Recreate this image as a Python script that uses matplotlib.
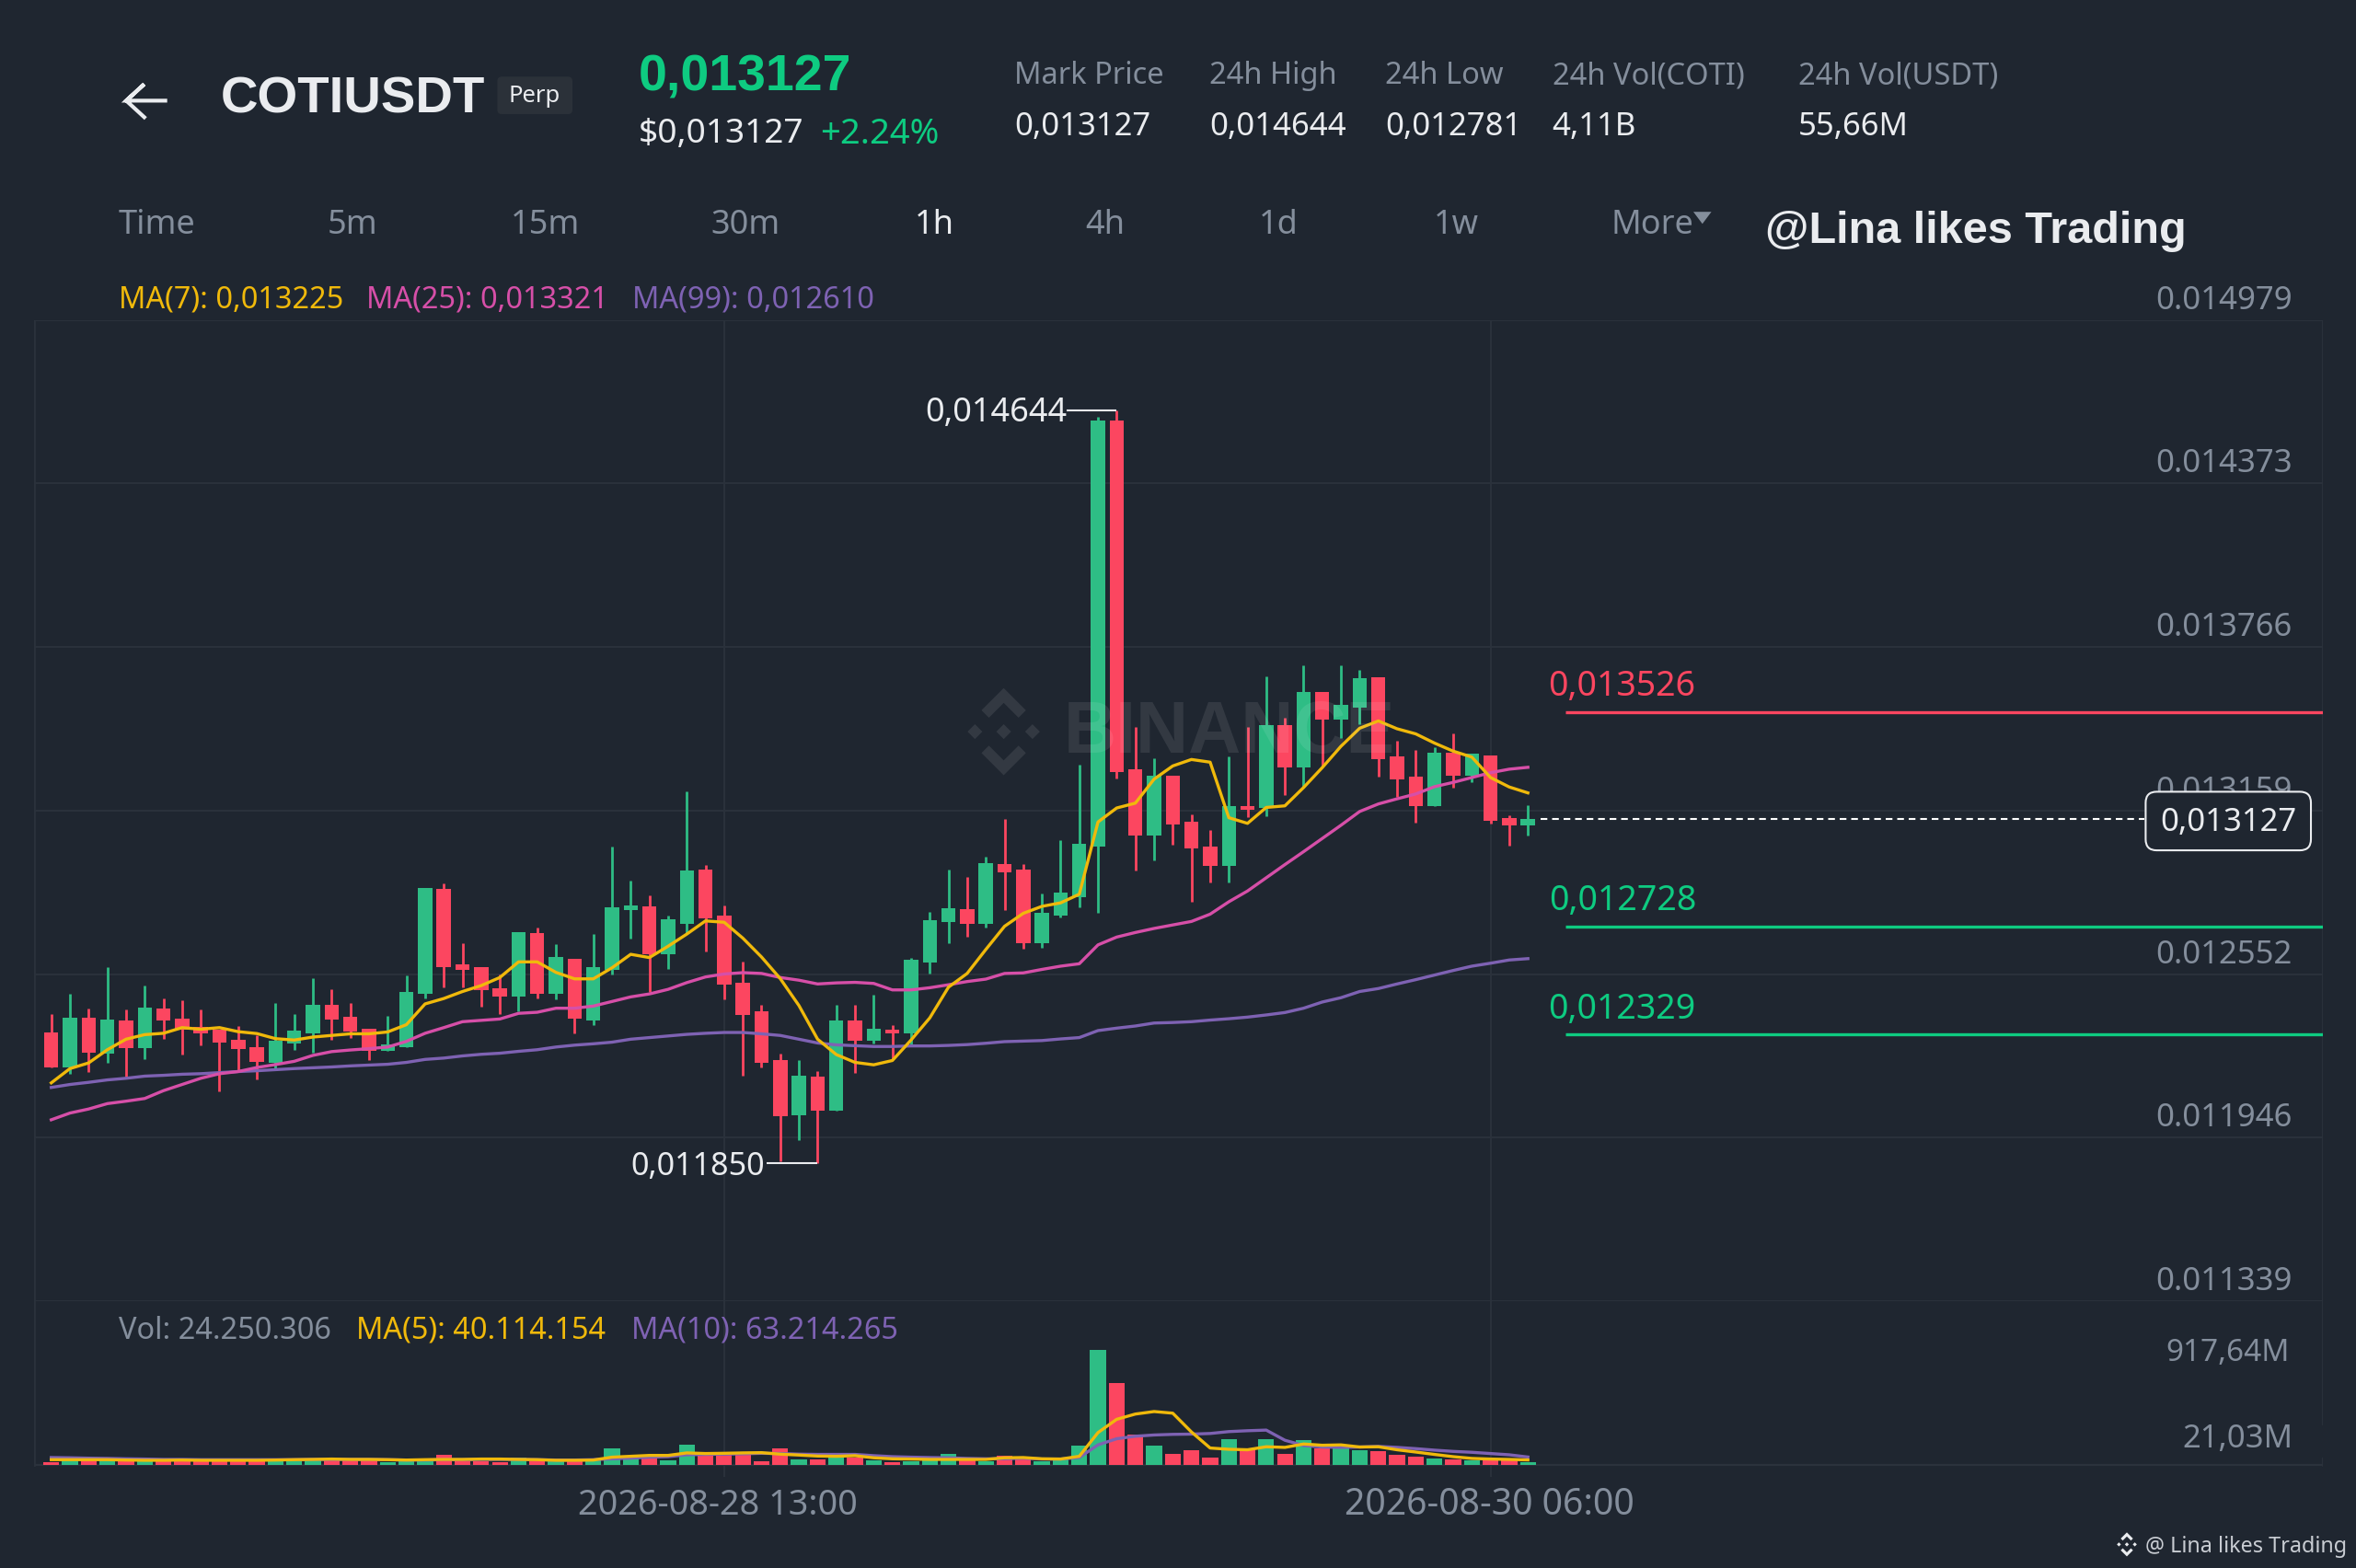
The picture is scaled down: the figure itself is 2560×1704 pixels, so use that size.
import matplotlib
matplotlib.use("Agg")
import numpy as np
import matplotlib.pyplot as plt
from matplotlib.patches import FancyBboxPatch, Polygon

plt.rcParams['font.family'] = ['Noto Sans', 'DejaVu Sans']

# ---------- data (prices in millionths of USDT, volumes in millions) ----------
opens = [12337,12208,12390,12257,12380,12279,12426,12387,12358,12345,12308,12282,12225,12294,12331,12438,12394,12349,12267,12283,
         12479,12869,12590,12578,12500,12468,12705,12479,12608,12381,12568,12791,12805,12626,12740,12939,12770,12519,12414,12234,
         12029,12172,12046,12380,12305,12346,12331,12595,12745,12795,12740,12961,12941,12666,12770,12838,13026,14607,13313,13067,
         13288,13117,13027,12955,13177,13170,13477,13320,13598,13498,13542,13653,13360,13284,13176,13375,13288,13364,13131,13104]
closes = [12206,12390,12261,12384,12279,12427,12379,12348,12333,12300,12273,12226,12305,12343,12440,12385,12340,12267,12292,12488,
          12872,12578,12567,12494,12470,12709,12479,12617,12387,12579,12801,12807,12625,12755,12938,12758,12512,12400,12224,12027,
          12174,12045,12382,12305,12349,12333,12607,12751,12796,12738,12963,12931,12667,12779,12854,13036,14607,13303,13066,13288,
          13108,13018,12955,13176,13164,13477,13320,13598,13498,13552,13652,13350,13275,13176,13375,13288,13370,13121,13103,13127]
highs = [12405,12479,12425,12578,12422,12511,12464,12454,12422,12348,12361,12325,12445,12404,12538,12495,12444,12351,12398,12548,
         12872,12888,12667,12579,12550,12709,12726,12665,12608,12702,13026,12898,12846,12770,13232,12956,12806,12598,12440,12259,
         12232,12194,12440,12440,12475,12363,12614,12782,12939,12914,12988,13129,12960,12851,13049,13331,14622,14644,13471,13352,
         13288,13145,13087,13359,13471,13659,13504,13698,13598,13699,13683,13653,13420,13383,13394,13447,13372,13364,13142,13178]
lows = [12206,12183,12189,12225,12172,12237,12312,12255,12288,12118,12194,12163,12202,12271,12261,12308,12314,12235,12267,12283,
        12464,12504,12504,12431,12406,12413,12464,12460,12331,12364,12550,12686,12485,12570,12701,12636,12460,12175,12206,11859,
        11938,11850,12046,12186,12294,12238,12291,12553,12668,12691,12725,12789,12648,12650,12763,12800,12781,13280,12938,12973,
        13032,12821,12894,12892,13136,13138,13217,13245,13322,13428,13480,13284,13209,13114,13176,13243,13266,13111,13030,13066]
ma7 = [12149,12202,12223,12272,12311,12328,12333,12354,12348,12354,12339,12332,12313,12308,12319,12325,12331,12331,12338,12365,
       12442,12462,12488,12510,12540,12598,12598,12559,12535,12535,12576,12626,12614,12656,12701,12750,12745,12686,12616,12536,
       12436,12311,12254,12225,12216,12232,12308,12390,12504,12555,12644,12730,12778,12804,12817,12849,13117,13169,13187,13276,
       13325,13349,13339,13133,13112,13171,13177,13245,13319,13398,13465,13492,13463,13444,13410,13380,13358,13282,13247,13225]
ma25 = [12012,12037,12052,12072,12081,12091,12120,12143,12166,12183,12191,12206,12217,12229,12251,12265,12271,12276,12282,12303,
        12333,12354,12376,12381,12386,12407,12411,12426,12426,12434,12451,12468,12479,12496,12521,12542,12553,12558,12555,12540,
        12530,12516,12520,12522,12518,12494,12494,12502,12513,12525,12534,12555,12557,12570,12582,12591,12661,12690,12707,12722,
        12735,12748,12775,12821,12861,12910,12959,13007,13056,13105,13156,13184,13203,13221,13248,13264,13282,13300,13313,13320]
ma99 = [12132,12143,12151,12160,12166,12174,12177,12181,12183,12187,12191,12194,12198,12202,12205,12208,12212,12215,12218,12225,
        12236,12241,12249,12255,12259,12266,12272,12282,12289,12294,12300,12311,12317,12323,12329,12333,12336,12336,12331,12325,
        12311,12297,12290,12287,12284,12284,12286,12286,12288,12291,12296,12302,12304,12306,12312,12317,12343,12352,12360,12371,
        12373,12376,12382,12387,12393,12401,12410,12426,12449,12465,12488,12499,12516,12532,12549,12566,12582,12593,12605,12610]
volumes = [25,37,37,57,37,32,32,54,37,37,37,37,30,32,54,44,37,37,20,32,32,79,32,32,20,57,32,32,32,37,130,62,69,37,160,103,98,93,32,135,
           44,44,62,62,37,25,32,37,86,37,32,76,49,30,42,153,917.64,652,239,153,91,116,62,202,135,204,91,197,135,135,118,108,84,66,54,42,34,49,49,24.25]
vol_ma5 = [42,42,42,42,39,37,37,39,37,37,37,37,39,42,44,47,44,44,42,39,42,44,44,47,47,44,42,37,37,39,62,69,76,76,96,91,93,96,98,
           86,79,71,69,74,57,49,47,44,44,44,44,57,59,49,47,69,258,364,406,426,413,263,135,125,121,145,140,167,157,160,143,145,121,103,84,66,52,47,44,40.11]
vol_ma10 = [59,57,54,52,49,47,44,44,42,42,42,42,42,42,44,44,44,44,42,39,39,42,42,44,44,44,42,39,39,42,49,54,62,66,81,84,86,89,93,
            91,86,84,84,84,74,66,62,59,57,52,49,49,54,47,47,59,160,209,229,239,244,246,251,266,273,278,197,155,143,140,143,148,140,130,118,108,101,91,81,63.21]
price_ticks = [0.014979,0.014373,0.013766,0.013159,0.012552,0.011946,0.011339]
price_tick_labels = ['0.014979','0.014373','0.013766','0.013159','0.012552','0.011946','0.011339']
time_tick_index = [36,77]
time_tick_labels = ['2026-08-28 13:00','2026-08-30 06:00']
last_price = 0.013127
level_red = [0.013526]
level_green = [0.012728,0.012329]
high_price = 0.014644
low_price = 0.011850

BG='#1f2630'; GRID='#2b323c'; GREEN='#2ebd85'; RED='#fc4660'; HGREEN='#0ecb81'
YEL='#f0b90b'; PINK='#d64fa8'; PUR='#7e62b3'; GRAY='#848e9c'; WHITE='#eaecef'
BOLD='Liberation Sans'

W,H=2560,1704
K=W/1568   # reference overview -> full pixels
fig=plt.figure(figsize=(W/100,H/100),dpi=100,facecolor=BG)

X0=55.7; DX=20.31; LEFT=37; RIGHT=2524
def ax_rect(top,bottom):
    return [LEFT/W,1-bottom/H,(RIGHT-LEFT)/W,(bottom-top)/H]
xlim=((LEFT-X0)/DX,(RIGHT-X0)/DX)

o=np.array(opens)/1e6; c=np.array(closes)/1e6; hi=np.array(highs)/1e6; lo=np.array(lows)/1e6
idx=np.arange(len(o))
cols=[GREEN if b>=a else RED for a,b in zip(o,c)]

# ---------- price panel ----------
ax=fig.add_axes(ax_rect(348,1414),facecolor=BG)
ax.set_xlim(*xlim); ax.set_ylim(0.011339,0.014979)
for s in ax.spines.values(): s.set_visible(False)
ax.set_yticks(price_ticks); ax.set_xticks(time_tick_index)
ax.tick_params(length=0,labelleft=False,labelbottom=False)
ax.grid(True,color=GRID,lw=1.4); ax.set_axisbelow(True)
ax.axvline(xlim[0],color=GRID,lw=2)
ax.axvline(xlim[1],color=GRID,lw=2)
ax.vlines(idx,lo,hi,colors=cols,lw=2.0,zorder=2)
ax.bar(idx,np.abs(c-o),bottom=np.minimum(o,c),width=0.76,color=cols,zorder=3)
ax.plot(idx,np.array(ma99)/1e6,color=PUR,lw=2.4,zorder=4)
ax.plot(idx,np.array(ma25)/1e6,color=PINK,lw=2.4,zorder=4)
ax.plot(idx,np.array(ma7)/1e6,color=YEL,lw=2.4,zorder=5)
for v in level_red:
    ax.hlines(v,81,xlim[1],color=RED,lw=2.4)
for v in level_green:
    ax.hlines(v,81,xlim[1],color=HGREEN,lw=2.4)
ax.hlines(last_price,79.7,112,color='white',lw=1.5,linestyles=(0,(3.5,2.5)))
for t,l in zip(price_ticks,price_tick_labels):
    ax.annotate(l,xy=(1,t),xycoords=ax.get_yaxis_transform(),xytext=(-33*.72,21*.72),textcoords='offset points',
                ha='right',va='center',color=GRAY,fontsize=25,zorder=1,annotation_clip=False)
ax.hlines(high_price,(1158.6-X0)/DX,57,color=WHITE,lw=1.5)
ax.hlines(low_price,(833.5-X0)/DX,41,color=WHITE,lw=1.5)

# ---------- volume panel ----------
va=fig.add_axes(ax_rect(1414,1605),facecolor=BG)
MPX=917.64/125
va.set_xlim(*xlim); va.set_ylim(-13*MPX,178*MPX)
for s in va.spines.values(): s.set_visible(False)
va.set_yticks([]); va.set_xticks(time_tick_index)
va.tick_params(length=0,labelbottom=False,labelleft=False)
va.grid(True,axis='x',color=GRID,lw=1.4); va.set_axisbelow(True)
va.axvline(xlim[0],color=GRID,lw=2,ymin=13/191)
va.axvline(xlim[1],color=GRID,lw=2,ymin=58/191)
va.axvline(xlim[1],color=GRID,lw=2,ymin=13/191,ymax=20/191)
va.axhline(0,color=GRID,lw=1.6,zorder=1)
va.bar(idx,volumes,width=0.85,color=cols,zorder=3)
va.plot(idx,vol_ma10,color=PUR,lw=2.4,zorder=4)
va.plot(idx,vol_ma5,color=YEL,lw=2.4,zorder=5)

# ---------- overlay: texts ----------
ov=fig.add_axes([0,0,1,1],facecolor='none',zorder=10)
ov.set_xlim(0,W); ov.set_ylim(H,0); ov.axis('off')
def T(x,y,s,size,color,ha='left',weight='normal',zorder=12,**kw):
    return ov.text(x*K,y*K+4.5,s,fontsize=size,color=color,ha=ha,va='center',fontweight=weight,zorder=zorder,**kw)

def logo(cx,cy,r,color,alpha=1.0):
    a=[(0,1),(.51,.49),(.34,.32),(0,.66),(-.34,.32),(-.51,.49)]
    d=[(0,.17),(.17,0),(0,-.17),(-.17,0)]
    shapes=[a,[(x,-y) for x,y in a],d,[(x+.66,y) for x,y in d],[(x-.66,y) for x,y in d]]
    for sh in shapes:
        ov.add_patch(Polygon([(cx+x*r,cy-y*r) for x,y in sh],closed=True,fc=color,ec='none',alpha=alpha,zorder=11))

# back arrow
ov.plot(np.array([110,84,96,84,96])*K,np.array([67,67,56,67,78])*K,color=WHITE,lw=3,solid_joinstyle='miter',zorder=12)
T(147,64,'COTIUSDT',40.5,WHITE,weight='bold',family=BOLD)
ov.add_patch(FancyBboxPatch((331*K,51*K),50*K,25*K,boxstyle='round,pad=0,rounding_size=5',fc='#2b3139',ec='none',zorder=11))
T(355.5,61,'Perp',18.5,WHITE,ha='center')
T(425,49,'0,013127',40,HGREEN,weight='bold',family=BOLD)
T(425,86.5,'$0,013127',26.7,WHITE)
T(546,86.5,'+2.24%',27.5,HGREEN)
for x,a,b in [(675,'Mark Price','0,013127'),(805,'24h High','0,014644'),(922,'24h Low','0,012781'),
              (1033,'24h Vol(COTI)','4,11B'),(1197,'24h Vol(USDT)','55,66M')]:
    T(x,48,a,23.5,GRAY); T(x,82,b,25,WHITE)
for x,s,col in [(79,'Time',GRAY),(218,'5m',GRAY),(340,'15m',GRAY),(473,'30m',GRAY),(609,'1h',WHITE),
                (722,'4h',GRAY),(838,'1d',GRAY),(954,'1w',GRAY),(1072,'More',GRAY)]:
    T(x,147,s,26,col)
ov.add_patch(Polygon([(1127*K,141*K),(1139*K,141*K),(1133*K,149*K)],closed=True,fc=GRAY,ec='none',zorder=12))
T(1175,151,'@Lina likes Trading',35,WHITE,weight='bold',family=BOLD)
T(79,197,'MA(7): 0,013225',23.4,YEL); T(244,197,'MA(25): 0,013321',23.4,PINK); T(421,197,'MA(99): 0,012610',23.4,PUR)
T(79,883,'Vol: 24.250.306',23.4,GRAY); T(237,883,'MA(5): 40.114.154',23.4,YEL); T(420,883,'MA(10): 63.214.265',23.4,PUR)
T(1524,898,'917,64M',24,GRAY,ha='right'); T(1526,955,'21,03M',25,GRAY,ha='right')
T(710,272,'0,014644',26,WHITE,ha='right'); T(509,774,'0,011850',24.6,WHITE,ha='right')
T(1030,454,'0,013526',27,RED); T(1031,597,'0,012728',27,HGREEN); T(1030,669,'0,012329',27,HGREEN)
for i,l,dx,fs in zip(time_tick_index,time_tick_labels,[-4,-0.5],[27.2,28.2]):
    T((X0+DX*i)/K+dx,999,l,fs,GRAY,ha='center')
# watermark
logo(668*K,487*K,29*K,'white',alpha=.09)
T(708,486,'BINANCE',57,'white',weight='bold',family=BOLD,alpha=.09,zorder=11)
# last price box
ov.add_patch(FancyBboxPatch((1428*K,527*K),110*K,39*K,boxstyle='round,pad=0,rounding_size=12',fc=BG,ec=WHITE,lw=1.5,zorder=13))
T(1483,545,'0,013127',25,WHITE,ha='center',zorder=14)
# footer
logo(1415.5*K,1028*K,8*K,WHITE)
T(1428,1027,'@ Lina likes Trading',16.8,'#c8ccd2')

fig.savefig('out.png',dpi=100,facecolor=BG)
